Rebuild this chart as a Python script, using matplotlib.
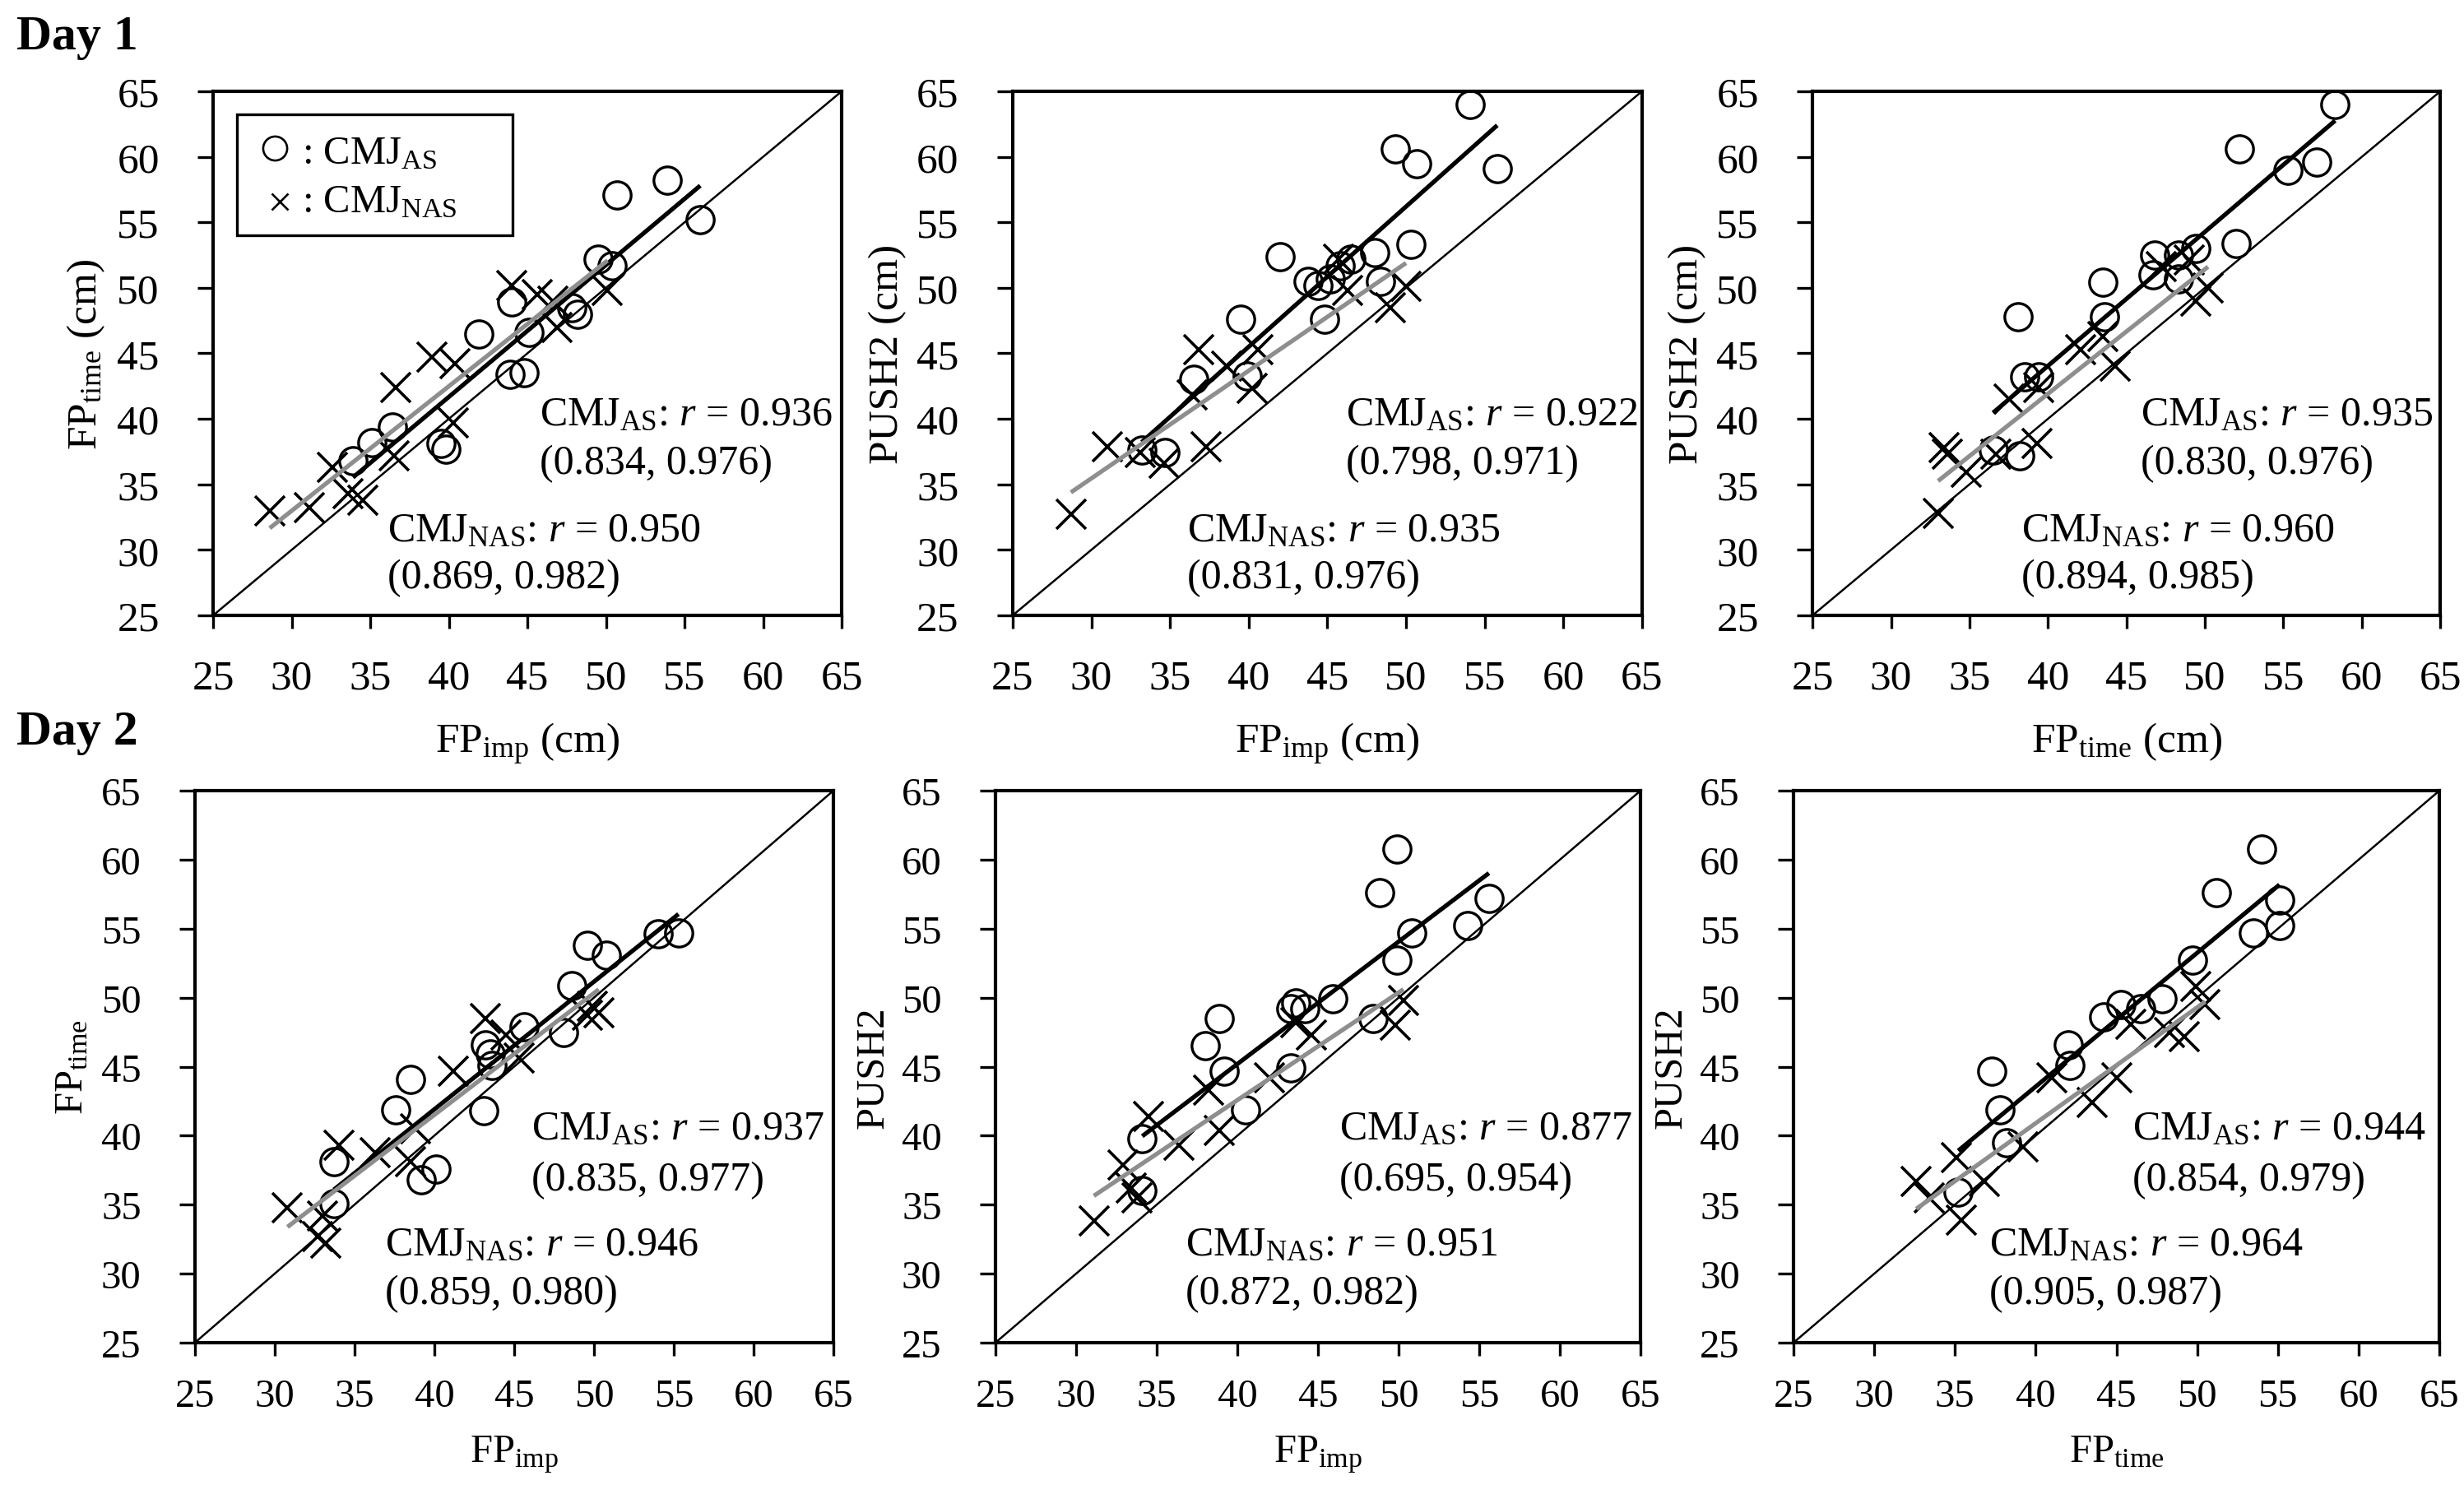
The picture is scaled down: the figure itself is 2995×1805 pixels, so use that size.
import numpy as np
import matplotlib
matplotlib.use("Agg")
import matplotlib.pyplot as plt
from matplotlib.patches import Rectangle

plt.rcParams['font.family'] = ['Liberation Serif', 'DejaVu Serif']
plt.rcParams['mathtext.fontset'] = 'custom'
plt.rcParams['mathtext.rm'] = 'Liberation Serif'
plt.rcParams['mathtext.it'] = 'Liberation Serif:italic'
plt.rcParams['mathtext.bf'] = 'Liberation Serif:bold'

# ---------------- data ----------------
ticks = [25, 30, 35, 40, 45, 50, 55, 60, 65]

# Day 1: FP_imp vs FP_time
d1p1_as_x = [53.9, 50.7, 56.0, 49.5, 50.4, 44.0, 48.2, 47.8, 45.1, 41.9, 43.9, 44.8, 36.4, 35.1, 33.9, 39.5, 39.8]
d1p1_as_y = [58.2, 57.1, 55.2, 52.2, 51.7, 48.9, 48.0, 48.5, 46.6, 46.5, 43.4, 43.5, 39.4, 38.2, 36.8, 38.1, 37.7]
d1p1_nas_x = [28.6, 31.1, 32.6, 33.6, 34.5, 36.5, 36.6, 38.9, 40.4, 40.3, 44.0, 45.6, 46.6, 46.9, 50.1]
d1p1_nas_y = [33.0, 33.2, 36.3, 34.3, 33.8, 37.2, 42.4, 44.7, 44.2, 39.7, 50.2, 49.5, 49.0, 47.0, 49.8]

# Day 1: FP_imp vs PUSH2
d1p2_as_x = [54.1, 49.3, 50.7, 55.8, 42.0, 50.3, 48.0, 46.5, 45.8, 43.8, 44.4, 45.2, 48.4, 44.8, 39.5, 36.5, 39.9, 34.7, 33.2]
d1p2_as_y = [64.0, 60.6, 59.5, 59.1, 52.4, 53.3, 52.7, 52.2, 51.7, 50.5, 50.2, 50.7, 50.5, 47.6, 47.6, 43.0, 43.3, 37.4, 37.6]
d1p2_nas_x = [28.7, 31.0, 33.1, 34.6, 36.8, 38.6, 36.4, 40.2, 40.6, 37.3, 45.7, 46.3, 49.0, 50.0]
d1p2_nas_y = [32.7, 37.9, 37.4, 36.6, 45.3, 44.0, 41.8, 42.3, 45.3, 37.9, 52.2, 49.8, 48.5, 50.1]

# Day 1: FP_time vs PUSH2
d1p3_as_x = [58.3, 52.2, 55.3, 57.1, 52.0, 49.4, 48.3, 46.8, 46.7, 48.3, 43.5, 43.6, 38.1, 38.5, 39.4, 38.2, 36.5]
d1p3_as_y = [64.0, 60.6, 59.0, 59.6, 53.4, 53.0, 52.5, 52.5, 51.0, 50.7, 50.4, 47.8, 47.8, 43.2, 43.2, 37.2, 37.6]
d1p3_nas_x = [33.0, 33.4, 33.6, 34.8, 36.7, 37.5, 39.4, 42.1, 43.5, 44.3, 39.3, 47.2, 49.0, 49.4, 50.2]
d1p3_nas_y = [32.8, 37.8, 37.3, 35.9, 37.3, 41.5, 42.4, 45.3, 46.3, 44.0, 38.1, 51.6, 52.1, 49.0, 50.0]

# Day 2: FP_imp vs FP_time
d2p1_as_x = [55.3, 54.0, 49.6, 50.8, 48.6, 48.1, 45.6, 43.2, 43.5, 43.6, 43.1, 38.5, 37.6, 39.2, 40.1, 33.7, 33.7]
d2p1_as_y = [54.7, 54.6, 53.8, 53.1, 50.9, 47.5, 47.9, 46.6, 45.9, 45.1, 41.8, 44.1, 41.9, 36.8, 37.6, 38.1, 35.1]
d2p1_nas_x = [30.8, 32.7, 33.2, 33.0, 34.0, 36.3, 38.5, 38.8, 41.2, 43.2, 44.5, 45.3, 49.9, 50.3, 49.6]
d2p1_nas_y = [34.8, 32.7, 32.2, 34.2, 39.3, 38.8, 38.1, 40.5, 44.7, 48.5, 47.3, 45.6, 49.4, 48.9, 48.7]

# Day 2: FP_imp vs PUSH2
d2p2_as_x = [49.9, 48.8, 55.6, 54.3, 50.8, 49.9, 45.9, 43.6, 44.2, 43.3, 48.4, 38.9, 38.0, 39.2, 43.3, 40.5, 34.1, 34.1]
d2p2_as_y = [60.8, 57.6, 57.2, 55.2, 54.7, 52.7, 49.9, 49.6, 49.2, 49.2, 48.5, 48.5, 46.5, 44.7, 44.9, 41.9, 39.8, 36.0]
d2p2_nas_x = [31.1, 32.9, 33.4, 33.8, 34.5, 36.4, 38.2, 38.9, 42.0, 43.6, 44.6, 50.3, 49.8]
d2p2_nas_y = [33.8, 37.9, 36.2, 35.5, 41.4, 39.3, 43.3, 40.4, 44.2, 48.2, 47.3, 49.8, 48.0]

# Day 2: FP_time vs PUSH2
d2p3_as_x = [54.0, 51.2, 55.1, 55.1, 53.5, 49.7, 45.3, 46.5, 47.8, 44.2, 42.0, 42.1, 37.3, 37.8, 38.2, 35.2]
d2p3_as_y = [60.8, 57.6, 57.1, 55.2, 54.7, 52.7, 49.5, 49.2, 49.9, 48.6, 46.6, 45.1, 44.7, 41.9, 39.5, 35.9]
d2p3_nas_x = [32.6, 33.4, 35.1, 35.4, 36.8, 39.2, 41.0, 43.5, 45.0, 45.9, 48.3, 49.2, 50.5, 49.9]
d2p3_nas_y = [36.7, 35.5, 38.4, 33.9, 36.7, 39.2, 44.2, 42.4, 44.2, 48.1, 47.5, 47.2, 49.5, 50.8]

r_as = ['0.936', '0.922', '0.935', '0.937', '0.877', '0.944']
ci_as = ['(0.834, 0.976)', '(0.798, 0.971)', '(0.830, 0.976)',
         '(0.835, 0.977)', '(0.695, 0.954)', '(0.854, 0.979)']
r_nas = ['0.950', '0.935', '0.960', '0.946', '0.951', '0.964']
ci_nas = ['(0.869, 0.982)', '(0.831, 0.976)', '(0.894, 0.985)',
          '(0.859, 0.980)', '(0.872, 0.982)', '(0.905, 0.987)']

xlabels = [r'$\mathrm{FP}_\mathrm{imp}$ (cm)', r'$\mathrm{FP}_\mathrm{imp}$ (cm)', r'$\mathrm{FP}_\mathrm{time}$ (cm)',
           r'$\mathrm{FP}_\mathrm{imp}$', r'$\mathrm{FP}_\mathrm{imp}$', r'$\mathrm{FP}_\mathrm{time}$']
ylabels = [r'$\mathrm{FP}_\mathrm{time}$ (cm)', 'PUSH2 (cm)', 'PUSH2 (cm)',
           r'$\mathrm{FP}_\mathrm{time}$', 'PUSH2', 'PUSH2']
legend_labels = [r': $\mathrm{CMJ}_\mathrm{AS}$', r': $\mathrm{CMJ}_\mathrm{NAS}$']

panels = [
    (d1p1_as_x, d1p1_as_y, d1p1_nas_x, d1p1_nas_y),
    (d1p2_as_x, d1p2_as_y, d1p2_nas_x, d1p2_nas_y),
    (d1p3_as_x, d1p3_as_y, d1p3_nas_x, d1p3_nas_y),
    (d2p1_as_x, d2p1_as_y, d2p1_nas_x, d2p1_nas_y),
    (d2p2_as_x, d2p2_as_y, d2p2_nas_x, d2p2_nas_y),
    (d2p3_as_x, d2p3_as_y, d2p3_nas_x, d2p3_nas_y),
]

# ---------------- layout ----------------
axes_rects = [
    (0.0865, 0.5853, 0.2551, 0.3527),
    (0.4110, 0.5853, 0.2554, 0.3527),
    (0.7356, 0.5853, 0.2548, 0.3527),
    (0.0791, 0.0958, 0.2591, 0.3715),
    (0.4040, 0.0958, 0.2618, 0.3715),
    (0.7279, 0.0958, 0.2621, 0.3715),
]
# annotation anchor (data coords): (x_as, x_nas)
ann_x = [(45.8, 36.1), (46.2, 36.1), (45.9, 38.3), (46.1, 36.9), (46.3, 36.8), (46.0, 37.1)]
ann_y_top = [40.3, 36.6, 31.5, 27.9]
ann_y_bot = [40.5, 36.8, 32.1, 28.6]

FS = 36
GRAY = '#8e8e8e'

fig = plt.figure(figsize=(29.95, 18.06), dpi=100)

for i, (ax_x, ax_y, nx, ny) in enumerate(panels):
    top_row = i < 3
    ax = fig.add_axes(axes_rects[i])
    ax.set_xlim(25, 65)
    ax.set_ylim(25, 65)
    ax.plot([25, 65], [25, 65], color='black', lw=1.8, zorder=1)

    ax.plot(ax_x, ax_y, linestyle='none', marker='o', markersize=24,
            mfc='none', mec='black', mew=2.4, zorder=2)
    ax.plot(nx, ny, linestyle='none', marker='x', markersize=26,
            mec='black', mew=2.6, zorder=2)

    # regression lines
    bx = np.array([min(ax_x), max(ax_x)])
    b = np.polyfit(ax_x, ax_y, 1)
    ax.plot(bx, np.polyval(b, bx), color='black', lw=3.8, zorder=3,
            solid_capstyle='butt')
    gx = np.array([min(nx), max(nx)])
    g = np.polyfit(nx, ny, 1)
    ax.plot(gx, np.polyval(g, gx), color=GRAY, lw=3.8, zorder=4,
            solid_capstyle='butt')

    tfs = 37 if top_row else 35
    ax.set_xticks(ticks)
    ax.set_yticks(ticks)
    ax.tick_params(axis='both', direction='out', width=2.4, labelsize=tfs)
    ax.tick_params(axis='x', length=11.5, pad=27 if top_row else 19.5)
    ax.tick_params(axis='y', length=14, pad=33)
    for s in ax.spines.values():
        s.set_linewidth(3.0)

    ax.set_xlabel(xlabels[i], fontsize=tfs, labelpad=20 if top_row else 17)
    ax.set_ylabel(ylabels[i], fontsize=tfs, labelpad=9)

    yy = ann_y_top if top_row else ann_y_bot
    xa, xn = ann_x[i]
    ax.text(xa, yy[0], r'$\mathrm{CMJ}_\mathrm{AS}$: $\mathit{r}$ = ' + r_as[i],
            fontsize=FS, ha='left', va='center', zorder=5)
    ax.text(xa, yy[1], ci_as[i], fontsize=FS, ha='left', va='center', zorder=5)
    ax.text(xn, yy[2], r'$\mathrm{CMJ}_\mathrm{NAS}$: $\mathit{r}$ = ' + r_nas[i],
            fontsize=FS, ha='left', va='center', zorder=5)
    ax.text(xn, yy[3], ci_nas[i], fontsize=FS, ha='left', va='center', zorder=5)

    if i == 0:
        # hand-drawn legend box (axes coordinates)
        ax.add_patch(Rectangle((0.038, 0.7253), 0.4385, 0.2307, transform=ax.transAxes,
                               facecolor='white', edgecolor='black', lw=2.4, zorder=6))
        ax.plot([0.0978], [0.892], transform=ax.transAxes, linestyle='none',
                marker='o', markersize=21, mfc='none', mec='black', mew=1.9, zorder=7)
        ax.plot([0.106], [0.790], transform=ax.transAxes, linestyle='none',
                marker='x', markersize=15, mec='black', mew=1.9, zorder=7)
        ax.text(0.1418, 0.8634, legend_labels[0], transform=ax.transAxes,
                fontsize=35, ha='left', va='baseline', zorder=7)
        ax.text(0.1418, 0.7703, legend_labels[1], transform=ax.transAxes,
                fontsize=35, ha='left', va='baseline', zorder=7)

fig.text(0.0067, 0.9745, 'Day 1', fontsize=43, fontweight='bold', ha='left', va='center')
fig.text(0.0067, 0.5065, 'Day 2', fontsize=43, fontweight='bold', ha='left', va='center')

fig.savefig('out.png', dpi=100)
